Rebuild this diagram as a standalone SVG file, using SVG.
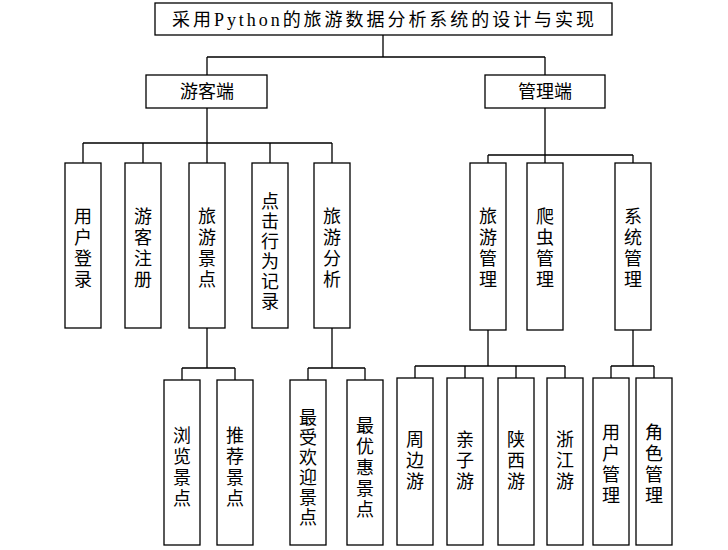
<svg xmlns="http://www.w3.org/2000/svg" width="728" height="550" viewBox="0 0 728 550">
<style>
rect{fill:#fff;stroke:#000;stroke-width:1.3}
text{font-family:"Liberation Serif","Noto Sans CJK SC",serif;font-size:18px;fill:#000;text-anchor:middle}
#connectors path{fill:none;stroke:#000;stroke-width:1.3}
</style>
<rect x="0" y="0" width="728" height="550" style="stroke:none"/>
<g id="connectors">
<path d="M383 35V57M207 57H545M207 57V75M545 57V75"/>
<path d="M207 108V143M83 143H332M83 143V163M143 143V163M207 143V163M270 143V163M332 143V163"/>
<path d="M545 108V155M488 155H633M488 155V163M545 155V163M633 155V163"/>
<path d="M207 328V368M182 368H235M182 368V380M235 368V380"/>
<path d="M332 328V368M308 368H365M308 368V380M365 368V380"/>
<path d="M488 330V366M415 366H565M415 366V378M465 366V378M516 366V378M565 366V378"/>
<path d="M633 330V366M611 366H654M611 366V378M654 366V378"/>
</g>
<g id="title"><rect x="155" y="3" width="457" height="32"/><text x="383" y="26" textLength="422" lengthAdjust="spacing">采用Python的旅游数据分析系统的设计与实现</text></g>
<g id="visitor"><rect x="146" y="75" width="121" height="33"/><text x="207" y="98">游客端</text></g>
<g id="admin"><rect x="485" y="75" width="120" height="33"/><text x="545" y="98">管理端</text></g>
<g id="n1"><rect x="65" y="163" width="36" height="165"/><text x="83" y="223"><tspan x="83">用</tspan><tspan x="83" dy="21">户</tspan><tspan x="83" dy="21">登</tspan><tspan x="83" dy="21">录</tspan></text></g>
<g id="n2"><rect x="125" y="163" width="36" height="165"/><text x="143" y="223"><tspan x="143">游</tspan><tspan x="143" dy="21">客</tspan><tspan x="143" dy="21">注</tspan><tspan x="143" dy="21">册</tspan></text></g>
<g id="n3"><rect x="189" y="163" width="36" height="165"/><text x="207" y="223"><tspan x="207">旅</tspan><tspan x="207" dy="21">游</tspan><tspan x="207" dy="21">景</tspan><tspan x="207" dy="21">点</tspan></text></g>
<g id="n4"><rect x="252" y="163" width="36" height="165"/><text x="270" y="208"><tspan x="270">点</tspan><tspan x="270" dy="20">击</tspan><tspan x="270" dy="20">行</tspan><tspan x="270" dy="20">为</tspan><tspan x="270" dy="20">记</tspan><tspan x="270" dy="20">录</tspan></text></g>
<g id="n5"><rect x="314" y="163" width="36" height="165"/><text x="332" y="223"><tspan x="332">旅</tspan><tspan x="332" dy="21">游</tspan><tspan x="332" dy="21">分</tspan><tspan x="332" dy="21">析</tspan></text></g>
<g id="n6"><rect x="470" y="163" width="36" height="167"/><text x="488" y="223"><tspan x="488">旅</tspan><tspan x="488" dy="21">游</tspan><tspan x="488" dy="21">管</tspan><tspan x="488" dy="21">理</tspan></text></g>
<g id="n7"><rect x="527" y="163" width="36" height="167"/><text x="545" y="223"><tspan x="545">爬</tspan><tspan x="545" dy="21">虫</tspan><tspan x="545" dy="21">管</tspan><tspan x="545" dy="21">理</tspan></text></g>
<g id="n8"><rect x="615" y="163" width="36" height="167"/><text x="633" y="223"><tspan x="633">系</tspan><tspan x="633" dy="21">统</tspan><tspan x="633" dy="21">管</tspan><tspan x="633" dy="21">理</tspan></text></g>
<g id="n9"><rect x="164" y="380" width="36" height="165"/><text x="182" y="442"><tspan x="182">浏</tspan><tspan x="182" dy="21">览</tspan><tspan x="182" dy="21">景</tspan><tspan x="182" dy="21">点</tspan></text></g>
<g id="n10"><rect x="217" y="380" width="36" height="165"/><text x="235" y="442"><tspan x="235">推</tspan><tspan x="235" dy="21">荐</tspan><tspan x="235" dy="21">景</tspan><tspan x="235" dy="21">点</tspan></text></g>
<g id="n11"><rect x="290" y="380" width="36" height="165"/><text x="308" y="424"><tspan x="308">最</tspan><tspan x="308" dy="20">受</tspan><tspan x="308" dy="20">欢</tspan><tspan x="308" dy="20">迎</tspan><tspan x="308" dy="20">景</tspan><tspan x="308" dy="20">点</tspan></text></g>
<g id="n12"><rect x="347" y="380" width="36" height="165"/><text x="365" y="432"><tspan x="365">最</tspan><tspan x="365" dy="21">优</tspan><tspan x="365" dy="21">惠</tspan><tspan x="365" dy="21">景</tspan><tspan x="365" dy="21">点</tspan></text></g>
<g id="n13"><rect x="397" y="378" width="36" height="167"/><text x="415" y="446"><tspan x="415">周</tspan><tspan x="415" dy="21">边</tspan><tspan x="415" dy="21">游</tspan></text></g>
<g id="n14"><rect x="447" y="378" width="36" height="167"/><text x="465" y="446"><tspan x="465">亲</tspan><tspan x="465" dy="21">子</tspan><tspan x="465" dy="21">游</tspan></text></g>
<g id="n15"><rect x="498" y="378" width="36" height="167"/><text x="516" y="446"><tspan x="516">陕</tspan><tspan x="516" dy="21">西</tspan><tspan x="516" dy="21">游</tspan></text></g>
<g id="n16"><rect x="547" y="378" width="36" height="167"/><text x="565" y="446"><tspan x="565">浙</tspan><tspan x="565" dy="21">江</tspan><tspan x="565" dy="21">游</tspan></text></g>
<g id="n17"><rect x="593" y="378" width="36" height="167"/><text x="611" y="439"><tspan x="611">用</tspan><tspan x="611" dy="21">户</tspan><tspan x="611" dy="21">管</tspan><tspan x="611" dy="21">理</tspan></text></g>
<g id="n18"><rect x="636" y="378" width="36" height="167"/><text x="654" y="439"><tspan x="654">角</tspan><tspan x="654" dy="21">色</tspan><tspan x="654" dy="21">管</tspan><tspan x="654" dy="21">理</tspan></text></g>
</svg>
